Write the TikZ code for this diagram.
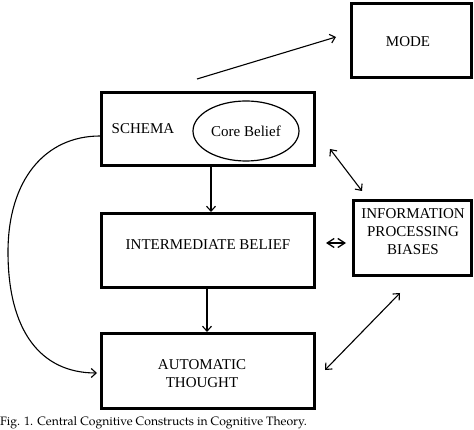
\documentclass[tikz,border=0pt]{standalone}
\usepackage{fontspec}
\setmainfont{Liberation Serif}
\newfontfamily\capfont{TeX Gyre Pagella}
\usetikzlibrary{arrows.meta,shapes.geometric}
\begin{document}
\begin{tikzpicture}[x=1pt,y=-1pt,
  box/.style={draw,line width=3pt,rectangle,inner sep=0pt,align=center,font=\fontsize{15}{18}\selectfont},
  lbl/.style={inner sep=0pt,align=center,font=\fontsize{15}{18}\selectfont},
  tip/.style={Straight Barb[length=5pt,width=9pt,line width=1.1pt]},
  arr/.style={line width=1.1pt,-{Straight Barb[length=5pt,width=9pt,line width=1.1pt]}},
  darr/.style={line width=1.1pt,{Straight Barb[length=5pt,width=9pt,line width=1.1pt]}-{Straight Barb[length=5pt,width=9pt,line width=1.1pt]}},
  sdarr/.style={line width=1.3pt,{Straight Barb[length=7pt,width=9pt,line width=1.3pt]}-{Straight Barb[length=7pt,width=9pt,line width=1.3pt]}}]
\useasboundingbox[fill=white] (0,0) rectangle (474,430);
% boxes
\node[box,minimum width=120pt,minimum height=74pt] (mode) at (411,40.5) {};
\node[lbl] (modet) at (408,42) {MODE};
\node[box,minimum width=213pt,minimum height=73pt] (schema) at (208,129) {};
\node[lbl] (schemat) at (143,129) {SCHEMA};
\node[draw,ellipse,line width=1.2pt,minimum width=106pt,minimum height=60pt,inner sep=0pt,font=\fontsize{15}{18}\selectfont] (core) at (246,131) {Core Belief};
\node[box,minimum width=213pt,minimum height=74pt] (inter) at (208,250.5) {};
\node[lbl] (intert) at (208,245) {INTERMEDIATE BELIEF};
\node[box,minimum width=213pt,minimum height=75pt] (auto) at (208,371) {};
\node[lbl] (autot) at (202,374) {AUTOMATIC\\THOUGHT};
\node[box,minimum width=118pt,minimum height=75pt] (info) at (412.5,238) {};
\node[lbl] (infot) at (413,232) {INFORMATION\\PROCESSING\\BIASES};
% free-end coordinates
\coordinate (ms) at (197,79);
\coordinate (me) at (336,37);
\coordinate (s1) at (330,149);
\coordinate (s2) at (362,191);
\coordinate (i1) at (326,243);
\coordinate (i2) at (346,243);
\coordinate (a1) at (325,370);
\coordinate (a2) at (400,293);
\coordinate (cs) at (100,136);
\coordinate (cm) at (8,252);
\coordinate (ce) at (97,373);
% connectors
\draw[arr] (ms) -- (me);
\draw[arr] ([xshift=3pt]schema.south) -- ([xshift=3pt]inter.north);
\draw[arr] ([xshift=-1pt]inter.south) -- ([xshift=-1pt]auto.north);
\draw[darr] (s1) -- (s2);
\draw[sdarr] (i1) -- (i2);
\draw[darr] (a1) -- (a2);
\draw[arr] (cs) .. controls (45,136) and (8,180) .. (cm) .. controls (8,330) and (40,373) .. (ce);
% caption
\node[anchor=base west,inner sep=0pt,font=\capfont\fontsize{12.2}{14}\selectfont] (cap) at (0,425) {Fig. 1. Central Cognitive Constructs in Cognitive Theory.};
\end{tikzpicture}
\end{document}
